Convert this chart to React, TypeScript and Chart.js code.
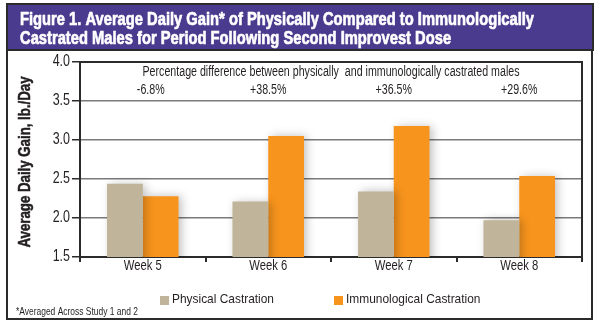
import React, { useEffect, useRef } from "react";
import { Chart, registerables } from "chart.js";

Chart.register(...registerables);

const categories = ["Week 5", "Week 6", "Week 7", "Week 8"];
const physicalValues = [2.44, 2.21, 2.34, 1.97];
const immunoValues = [2.28, 3.05, 3.18, 2.54];
const pctLabels = ["-6.8%", "+38.5%", "+36.5%", "+29.6%"];
const yTickValues = [1.5, 2.0, 2.5, 3.0, 3.5, 4.0];
const seriesNames = ["Physical Castration", "Immunological Castration"];
const titleLines = [
  "Figure 1. Average Daily Gain* of Physically Compared to Immunologically",
  "Castrated Males for Period Following Second Improvest Dose",
];
const pctHeader = "Percentage difference between physically  and immunologically castrated males";
const yTitle = "Average Daily Gain, lb./Day";
const footnote = "*Averaged Across Study 1 and 2";

const FONT = "'Liberation Sans', Arial, sans-serif";
const TAN = "#c0b49a";
const ORANGE = "#f7941d";
const PURPLE = "#4b3b8e";
const DARK = "#2b2b2b";
const TEXT = "#231f20";

// draw horizontally condensed text; sx = horizontal scale
function ctext(ctx: any, text: string, x: number, y: number, font: string, sx: number, align: string = "left", strokeW: number = 0) {
  ctx.save();
  ctx.font = font;
  ctx.textAlign = align;
  ctx.textBaseline = "middle";
  ctx.translate(x, y);
  ctx.scale(sx, 1);
  ctx.fillText(text, 0, 0);
  if (strokeW > 0) {
    ctx.strokeStyle = ctx.fillStyle;
    ctx.lineWidth = strokeW;
    ctx.lineJoin = "round";
    ctx.strokeText(text, 0, 0);
  }
  ctx.restore();
}
function fitScale(ctx: any, text: string, font: string, target: number) {
  ctx.save();
  ctx.font = font;
  const w = ctx.measureText(text).width;
  ctx.restore();
  return target / w;
}

const decorPlugin = {
  id: "decor",
  beforeDraw(chart: any) {
    const ctx = chart.ctx;
    ctx.save();
    ctx.fillStyle = "#ffffff";
    ctx.fillRect(0, 0, chart.width, chart.height);
    // banner
    ctx.fillStyle = PURPLE;
    ctx.fillRect(7, 4, 586, 46);
    ctx.strokeStyle = DARK;
    ctx.lineWidth = 2;
    ctx.strokeRect(7, 4, 586, 46);
    ctx.fillStyle = "#ffffff";
    const tf = `bold 19px ${FONT}`;
    const tsx = fitScale(ctx, titleLines[0], tf, 514);
    ctext(ctx, titleLines[0], 20, 20, tf, tsx, "left", 0.7);
    ctext(ctx, titleLines[1], 20, 39, tf, tsx, "left", 0.7);
    // outer frame
    ctx.strokeStyle = DARK;
    ctx.lineWidth = 2;
    ctx.strokeRect(7, 50, 585, 269);
    ctx.restore();
  },
  beforeDatasetsDraw(chart: any) {
    const ctx = chart.ctx;
    ctx.save();
    ctx.shadowColor = "rgba(0,0,0,0.25)";
    ctx.shadowBlur = 9;
    ctx.shadowOffsetX = 3;
    ctx.shadowOffsetY = 0;
  },
  afterDatasetsDraw(chart: any) {
    chart.ctx.restore();
  },
  afterDraw(chart: any) {
    const ctx = chart.ctx;
    const area = chart.chartArea;
    const xs = chart.scales.x;
    const ys = chart.scales.y;
    ctx.save();
    // plot frame top and right
    ctx.strokeStyle = DARK;
    ctx.lineWidth = 2;
    ctx.beginPath();
    ctx.moveTo(area.left, area.top);
    ctx.lineTo(area.right, area.top);
    ctx.lineTo(area.right, area.bottom);
    ctx.stroke();
    ctx.fillStyle = TEXT;
    // y tick labels
    const tickFont = `16px ${FONT}`;
    yTickValues.forEach((v) => {
      ctext(ctx, v.toFixed(1), area.left - 10, ys.getPixelForValue(v), tickFont, 0.78, "right");
    });
    // x labels
    const xf = `14px ${FONT}`;
    const xsx = fitScale(ctx, categories[0], xf, 38);
    categories.forEach((c, i) => {
      ctext(ctx, c, xs.getPixelForValue(i), area.bottom + 9, xf, xsx, "center");
    });
    // percentage header
    const hf = `14px ${FONT}`;
    const hsx = fitScale(ctx, pctHeader, hf, 377);
    ctext(ctx, pctHeader, (area.left + area.right) / 2, 72, hf, hsx, "center");
    pctLabels.forEach((t, i) => {
      ctext(ctx, t, xs.getPixelForValue(i) + (i === 0 ? 8 : 0), 90, hf, hsx, "center");
    });
    // y title
    ctx.save();
    ctx.translate(26, 162);
    ctx.rotate(-Math.PI / 2);
    const yf = `bold 16px ${FONT}`;
    const ysx = fitScale(ctx, yTitle, yf, 171);
    ctext(ctx, yTitle, 0, 0, yf, ysx, "center", 0.5);
    ctx.restore();
    // legend
    const lf = `13.5px ${FONT}`;
    const lsx = fitScale(ctx, seriesNames[0], lf, 102);
    const legendItems = [
      { name: seriesNames[0], color: TAN, x: 160 },
      { name: seriesNames[1], color: ORANGE, x: 334 },
    ];
    legendItems.forEach((it) => {
      ctx.fillStyle = it.color;
      ctx.fillRect(it.x, 296, 9, 9);
      ctx.fillStyle = TEXT;
      ctext(ctx, it.name, it.x + 12, 299, lf, lsx, "left");
    });
    // footnote
    const ff = `11px ${FONT}`;
    const fsx = fitScale(ctx, footnote, ff, 122);
    ctext(ctx, footnote, 16, 312, ff, fsx, "left");
    ctx.restore();
  },
};

export default function App() {
  const ref = useRef<HTMLCanvasElement>(null);
  useEffect(() => {
    if (!ref.current) return;
    const chart = new Chart(ref.current, {
      type: "bar",
      data: {
        labels: categories,
        datasets: [
          { label: seriesNames[0], data: physicalValues, backgroundColor: TAN },
          { label: seriesNames[1], data: immunoValues, backgroundColor: ORANGE },
        ],
      },
      plugins: [decorPlugin],
      options: {
        animation: false,
        responsive: false,
        maintainAspectRatio: false,
        layout: { padding: { left: 46, right: 18, top: 62, bottom: 52 } },
        datasets: { bar: { categoryPercentage: 0.57, barPercentage: 1.0 } },
        plugins: { legend: { display: false }, tooltip: { enabled: false }, title: { display: false } },
        scales: {
          x: {
            afterFit: (s: any) => { s.height = 20; },
            grid: { drawOnChartArea: false, drawTicks: true, tickLength: 5, tickColor: DARK, lineWidth: 2, offset: true },
            border: { color: DARK, width: 2 },
            ticks: { color: "rgba(0,0,0,0)", font: { family: FONT, size: 14 }, padding: 2 },
          },
          y: {
            min: 1.5,
            max: 4.0,
            afterFit: (s: any) => { s.width = 34; },
            grid: { color: "#7a7a7a", lineWidth: 1.5, drawTicks: true, tickLength: 8, tickColor: DARK },
            border: { color: DARK, width: 2 },
            ticks: {
              stepSize: 0.5,
              color: "rgba(0,0,0,0)",
              font: { family: FONT, size: 14 },
              padding: 3,
              callback: (v: any) => Number(v).toFixed(1),
            },
          },
        },
      },
    } as any);
    return () => chart.destroy();
  }, []);
  return (
    <div style={{ position: "absolute", left: 0, top: 0, width: 600, height: 329, background: "#fff" }}>
      <canvas ref={ref} width={600} height={329} style={{ width: 600, height: 329, display: "block" }} />
    </div>
  );
}
